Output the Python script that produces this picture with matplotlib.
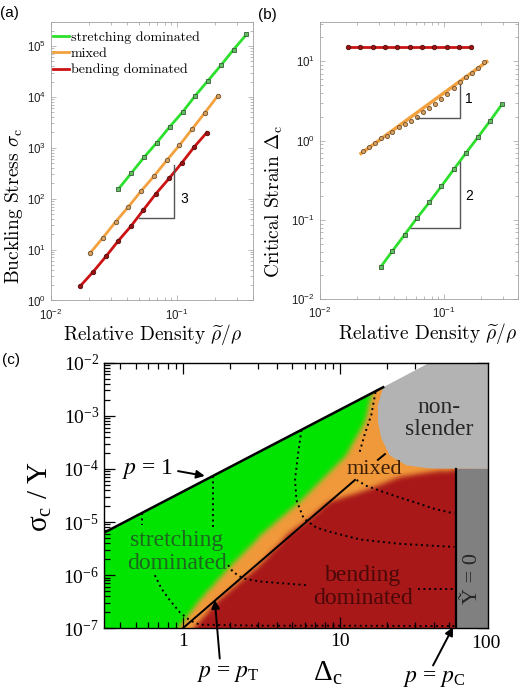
import numpy as np
import matplotlib
matplotlib.use('Agg')
import matplotlib.pyplot as plt
from matplotlib.path import Path
from matplotlib.colors import LinearSegmentedColormap
from matplotlib.lines import Line2D
from matplotlib.ticker import FixedLocator, FixedFormatter, NullFormatter

# ---------------- panel (a): buckling stress vs relative density
a_red_x = [0.0171, 0.0218, 0.0275, 0.0344, 0.0434, 0.0543, 0.0685, 0.0869, 0.110, 0.138, 0.173]
a_red_y = [1.9, 3.7, 7.4, 14.9, 29, 60, 126, 250, 510, 1050, 1990]
a_orange_x = [0.0205, 0.0259, 0.0327, 0.0413, 0.0521, 0.0658, 0.0831, 0.105, 0.1325, 0.167, 0.211]
a_orange_y = [8.5, 17, 35, 69, 141, 275, 562, 1120, 2340, 4880, 10400]
a_green_x = [0.0344, 0.0435, 0.0549, 0.0694, 0.0877, 0.111, 0.140, 0.177, 0.224, 0.282, 0.357]
a_green_y = [154, 316, 646, 1260, 2570, 5010, 10500, 20900, 41700, 85000, 168000]
a_tri_x = [0.05, 0.095, 0.095]
a_tri_y = [41, 41, 460]

# ---------------- panel (b): critical strain vs relative density
b_red_x = [0.0168, 0.0211, 0.0266, 0.0335, 0.0421, 0.053, 0.0668, 0.084, 0.106, 0.133, 0.167]
b_red_y = [15, 15, 15, 15, 15, 15, 15, 15, 15, 15, 15]
b_orange_x = [0.0221, 0.0247, 0.0278, 0.031, 0.0347, 0.0384, 0.0434, 0.0484, 0.0544, 0.0607, 0.0678,
              0.0762, 0.0851, 0.096, 0.107, 0.121, 0.136, 0.152, 0.170, 0.19, 0.213]
b_orange_y = [0.74, 0.84, 0.93, 1.07, 1.15, 1.30, 1.47, 1.61, 1.75, 1.98, 2.30,
              2.58, 2.92, 3.36, 3.89, 4.64, 5.48, 6.35, 7.2, 8.3, 9.7]
b_orange_fit_x = [0.0215, 0.2235]
b_orange_fit_y = [0.69, 9.9]
b_green_x = [0.031, 0.0384, 0.0484, 0.0607, 0.0766, 0.096, 0.121, 0.152, 0.19, 0.238, 0.298]
b_green_y = [0.0256, 0.0404, 0.0653, 0.105, 0.167, 0.267, 0.435, 0.703, 1.11, 1.78, 2.9]
b_tri1_x = [0.0607, 0.136, 0.136]
b_tri1_y = [1.92, 1.92, 5.1]
b_tri2_x = [0.0548, 0.1346, 0.1346]
b_tri2_y = [0.080, 0.080, 0.54]

# ---------------- panel (c): phase diagram
c_xlim = (0.315, 88)
c_ylim = (1e-7, 1e-2)
p1_x = [0.315, 18.9]
p1_y = [6.3e-6, 3.45e-3]
white_x = [0.315, 18.9, 37.4]
white_y = [6.3e-6, 3.45e-3, 1e-2]
ns_x = [18.9, 37.4, 100, 100, 37.4, 26.6, 20.8, 18.4, 17.5, 17.5]
ns_y = [3.45e-3, 1e-2, 1e-2, 1.0e-4, 1.02e-4, 1.17e-4, 1.8e-4, 3.8e-4, 7.8e-4, 1.6e-3]
ytil_x = [54.8, 100]
green_edge_x = [0.933, 1.282, 1.995, 3.236, 5.623, 8.318, 10.96, 14.45, 16.22, 17.78]
green_edge_y = [1e-7, 3.39e-7, 1.445e-6, 6.17e-6, 2.51e-5, 7.94e-5, 1.82e-4, 7.76e-4, 3.31e-3, 1e-2]
red_edge_x = [1.175, 1.698, 3.02, 4.786, 6.31, 8.51, 14.79, 23.99, 39.26, 54.95, 100]
red_edge_y = [1e-7, 3.39e-7, 1.445e-6, 6.17e-6, 1.12e-5, 2.4e-5, 3.98e-5, 7.08e-5, 8.91e-5, 9.55e-5, 9.55e-5]
pT_x = [1.0, 12.5]
pT_y = [1e-7, 6.2e-5]
pT_dash_x = [17.5, 19.4]
pT_dash_y = [1.48e-4, 1.9e-4]
pC_x = [54.8, 54.8]
pC_y = [1e-7, 1.0e-4]

# dotted contours (pieces, gaps are where labels sit)
contours = [
    ([0.553, 0.553], [1.5e-5, 8.7e-6]),
    ([0.664, 0.731, 0.826, 0.957, 1.109, 1.282, 3.16, 10, 55],
     [1e-6, 5.6e-7, 3.4e-7, 2.0e-7, 1.41e-7, 1.17e-7, 1.12e-7, 1.12e-7, 1.1e-7]),
    ([1.56, 1.56], [7.4e-5, 8.1e-6]),
    ([1.945, 2.09, 2.42, 3.09, 4.15, 6.14], [1.55e-6, 1.15e-6, 8.7e-7, 7.6e-7, 7.1e-7, 6.5e-7]),
    ([31.5, 54.8], [5.6e-7, 5.6e-7]),
    ([5.70, 5.43, 5.19, 5.30, 5.89, 7.08, 9.06, 13.5, 24.0, 53.7],
     [5.4e-4, 1.95e-4, 6.3e-5, 2.57e-5, 1.17e-5, 7.9e-6, 6.3e-6, 4.7e-6, 3.9e-6, 3.4e-6]),
    ([16.9, 15.9, 14.4, 13.4], [2.8e-3, 1.05e-3, 4.4e-4, 2.1e-4]),
    ([12.8, 14.8, 18.9, 24.0, 30.9, 39.3, 53.7],
     [6.2e-5, 4.8e-5, 3.7e-5, 2.9e-5, 2.3e-5, 1.8e-5, 1.45e-5]),
]

fig = plt.figure(figsize=(5.2, 6.89), dpi=100)
ax_a = fig.add_axes([0.0975, 0.5639, 0.3885, 0.4047])
ax_b = fig.add_axes([0.6154, 0.5656, 0.3808, 0.4029])
ax_c = fig.add_axes([0.2, 0.0881, 0.7385, 0.3855])

GREEN = '#2ee02e'
ORANGE = '#f2a13e'
RED = '#cc1212'


def matlab_style(ax):
    ax.set_xscale('log')
    ax.set_yscale('log')
    for s in ax.spines.values():
        s.set_color('#a0a0a0')
        s.set_linewidth(0.6)
    ax.tick_params(which='both', direction='in', top=True, right=True,
                   colors='#a0a0a0', labelcolor='#222222', labelsize=8.3,
                   labelfontfamily='Liberation Sans', width=0.5)
    ax.tick_params(which='major', length=3.5)
    ax.tick_params(which='minor', length=2)
    ax.tick_params(axis='x', pad=5)
    ax.xaxis.set_minor_formatter(NullFormatter())
    ax.yaxis.set_minor_formatter(NullFormatter())


lab = dict(fontfamily='cmr10', math_fontfamily='cm', fontsize=14)

# (a)
matlab_style(ax_a)
ax_a.plot(a_green_x, a_green_y, '-s', color=GREEN, lw=2, ms=3, mfc='#5fbf5f', mec='#3a5a3a', mew=0.6)
ax_a.plot(a_orange_x, a_orange_y, '-o', color=ORANGE, lw=2, ms=3.2, mfc='#d9a060', mec='#6b5030', mew=0.6)
ax_a.plot(a_red_x, a_red_y, '-o', color=RED, lw=2, ms=3.2, mfc='#a01010', mec='#501010', mew=0.6)
ax_a.plot(a_tri_x, a_tri_y, color='#555555', lw=1)
ax_a.text(0.106, 100, '3', fontsize=10, fontfamily='Liberation Sans', va='center')
ax_a.set_xlim(0.01, 0.4)
ax_a.set_ylim(1, 3e5)
ax_a.set_ylabel(r'Buckling Stress $\sigma_\mathrm{c}$', **lab)
ax_a.set_xlabel(r'Relative Density $\widetilde{\rho}/\rho$', **lab)
ax_a.yaxis.set_label_coords(-0.127, 0.34)
ax_a.xaxis.set_label_coords(0.504, -0.078)
handles = [Line2D([], [], color=GREEN, lw=2), Line2D([], [], color=ORANGE, lw=2),
           Line2D([], [], color=RED, lw=2)]
ax_a.legend(handles, ['stretching dominated', 'mixed', 'bending dominated'],
            loc='upper left', bbox_to_anchor=(0.0, 0.975), frameon=False,
            handlelength=1.1, handletextpad=0.15, borderaxespad=0.1, borderpad=0.1,
            labelspacing=0.25, prop={'family': 'cmr10', 'size': 10})

# (b)
matlab_style(ax_b)
ax_b.plot(b_red_x, b_red_y, '-o', color=RED, lw=2, ms=3.2, mfc='#a01010', mec='#501010', mew=0.6)
ax_b.plot(b_orange_fit_x, b_orange_fit_y, '-', color=ORANGE, lw=2.5)
ax_b.plot(b_orange_x, b_orange_y, 'o', ms=3, mfc='#d9a060', mec='#6b5030', mew=0.6)
ax_b.plot(b_green_x, b_green_y, '-s', color=GREEN, lw=2, ms=3, mfc='#5fbf5f', mec='#3a5a3a', mew=0.6)
ax_b.plot(b_tri1_x, b_tri1_y, color='#555555', lw=1)
ax_b.plot(b_tri2_x, b_tri2_y, color='#555555', lw=1)
ax_b.text(0.149, 3.4, '1', fontsize=10, fontfamily='Liberation Sans', va='center')
ax_b.text(0.15, 0.2, '2', fontsize=10, fontfamily='Liberation Sans', va='center')
ax_b.set_xlim(0.01, 0.4)
ax_b.set_ylim(0.01, 10 ** 1.5)
ax_b.set_ylabel(r'Critical Strain $\Delta_\mathrm{c}$', **lab)
ax_b.set_xlabel(r'Relative Density $\widetilde{\rho}/\rho$', **lab)
ax_b.yaxis.set_label_coords(-0.177, 0.354)
ax_b.xaxis.set_label_coords(0.545, -0.078)

# (c) colour field from region boundaries, softened
u_edges = np.linspace(np.log10(c_xlim[0]), np.log10(c_xlim[1]), 385)
v_edges = np.linspace(np.log10(c_ylim[0]), np.log10(c_ylim[1]), 266)
uc = 0.5 * (u_edges[1:] + u_edges[:-1])
vc = 0.5 * (v_edges[1:] + v_edges[:-1])
UU, VV = np.meshgrid(uc, vc)
pts = np.column_stack([UU.ravel(), VV.ravel()])

gu, gv = np.log10(green_edge_x), np.log10(green_edge_y)
green_poly = Path(list(zip(gu, gv)) + [(-1.0, gv[-1]), (-1.0, -7.5), (gu[0], -7.5)])
ru, rv = np.log10(red_edge_x), np.log10(red_edge_y)
red_poly = Path(list(zip(ru, rv)) + [(2.5, rv[-1]), (2.5, -7.5), (ru[0], -7.5)])

field = np.ones(UU.shape)
field[green_poly.contains_points(pts).reshape(UU.shape)] = 0.0
field[red_poly.contains_points(pts).reshape(UU.shape)] = 2.0


def blur(a, sigma):
    r = int(3 * sigma)
    k = np.exp(-0.5 * (np.arange(-r, r + 1) / sigma) ** 2)
    k /= k.sum()
    p = np.pad(a, r, mode='edge')
    p = np.apply_along_axis(lambda m: np.convolve(m, k, mode='valid'), 0, p)
    p = np.apply_along_axis(lambda m: np.convolve(m, k, mode='valid'), 1, p)
    return p


field = blur(field, 2.6)
phase_cmap = LinearSegmentedColormap.from_list(
    'phase', [(0.0, '#00e400'), (0.5, '#f0993a'), (1.0, '#a81818')])

ax_c.set_xscale('log')
ax_c.set_yscale('log')
ax_c.pcolormesh(10 ** u_edges, 10 ** v_edges, field, cmap=phase_cmap, vmin=0, vmax=2,
                shading='flat', linewidth=0, antialiased=False, zorder=0)
ax_c.fill_between(white_x, white_y, 1e-2, color='white', lw=0, zorder=1)
ax_c.fill(ns_x, ns_y, color='#b3b3b3', lw=0, zorder=2)
ax_c.fill_between(ytil_x, 1e-7, 1e-4, color='#808080', lw=0, zorder=2)

for cx, cy in contours:
    ax_c.plot(cx, cy, color='k', lw=1.4, ls=(0, (1, 1.8)), zorder=3)
ax_c.plot(p1_x, p1_y, color='k', lw=1.8, zorder=3)
ax_c.plot(pT_x, pT_y, color='k', lw=1.4, zorder=3)
ax_c.plot(pT_dash_x, pT_dash_y, color='k', lw=1.4, zorder=3)
ax_c.plot(pC_x, pC_y, color='k', lw=1.6, zorder=3)

ax_c.set_xlim(*c_xlim)
ax_c.set_ylim(*c_ylim)
for s in ax_c.spines.values():
    s.set_linewidth(1.0)
    s.set_zorder(5)
ax_c.tick_params(which='both', direction='in', top=True, right=True, width=0.9,
                 labelsize=14, labelfontfamily='Liberation Serif')
ax_c.tick_params(which='major', length=8)
ax_c.tick_params(which='minor', length=4)
ax_c.xaxis.set_major_locator(FixedLocator([1, 10]))
ax_c.xaxis.set_major_formatter(FixedFormatter(['1', '10']))
ax_c.xaxis.set_minor_formatter(NullFormatter())
ax_c.yaxis.set_minor_formatter(NullFormatter())
ax_c.text(0.994, -0.025, '100', transform=ax_c.transAxes, ha='center', va='top',
          fontsize=14, family='Liberation Serif')

serif = 'Liberation Serif'
ax_c.text(0.92, 2.7e-6, 'stretching\ndominated', ha='center', va='center', fontsize=17,
          family=serif, color='#1f661f', linespacing=1.1, zorder=4)
ax_c.text(14.1, 6e-7, 'bending\ndominated', ha='center', va='center', fontsize=17,
          family=serif, color='#4a0808', linespacing=1.1, zorder=4)
ax_c.text(16.5, 9.7e-5, 'mixed', ha='center', va='center', fontsize=16,
          family=serif, color='#3c1e05', zorder=4)
ax_c.text(42.7, 8.9e-4, 'non-\nslender', ha='center', va='center', fontsize=17,
          family=serif, color='#262626', linespacing=1.1, zorder=4)
ax_c.text(70.6, 8.7e-7, 'Ỹ = 0', ha='center', va='center', fontsize=16, rotation=90,
          family=serif, color='#262626', zorder=4)

mt = dict(family=serif, math_fontfamily='stix', fontsize=17, ha='center', va='center')
arrow = dict(arrowstyle='-|>', color='k', lw=1.4, mutation_scale=12, shrinkA=0, shrinkB=0)
ax_c.text(0.598, 1.0e-4, r'$p$ = 1', zorder=4, **mt)
ax_c.annotate('', xy=(1.38, 7.4e-5), xytext=(0.933, 9.1e-5), arrowprops=arrow, zorder=4)
ax_c.text(1.94, 1.41e-8, r'$p$ = $p_{\mathdefault{T}}$', **mt)
ax_c.annotate('', xy=(1.6, 3.4e-7), xytext=(1.72, 2.7e-8), arrowprops=arrow,
              annotation_clip=False, zorder=4)
ax_c.text(40.3, 1.15e-8, r'$p$ = $p_{\mathdefault{C}}$', **mt)
ax_c.annotate('', xy=(52.7, 1.05e-7), xytext=(39.3, 2.0e-8), arrowprops=arrow,
              annotation_clip=False, zorder=4)
ax_c.text(8.42, 1.41e-8, r'Δ$_{\mathdefault{c}}$', family=serif, fontsize=21,
          ha='center', va='center')
fig.text(40 / 520, 1 - 496.7 / 689, r'σ$_{\mathdefault{c}}$ / Y', family=serif, fontsize=21,
         rotation=90, ha='center', va='center')

fig.text(0.019, 0.981, '(a)', fontsize=11, family='Liberation Sans', ha='center', va='center')
fig.text(0.515, 0.978, '(b)', fontsize=11, family='Liberation Sans', ha='center', va='center')
fig.text(0.021, 0.4775, '(c)', fontsize=11, family='Liberation Sans', ha='center', va='center')

fig.savefig('out.png', dpi=100)
